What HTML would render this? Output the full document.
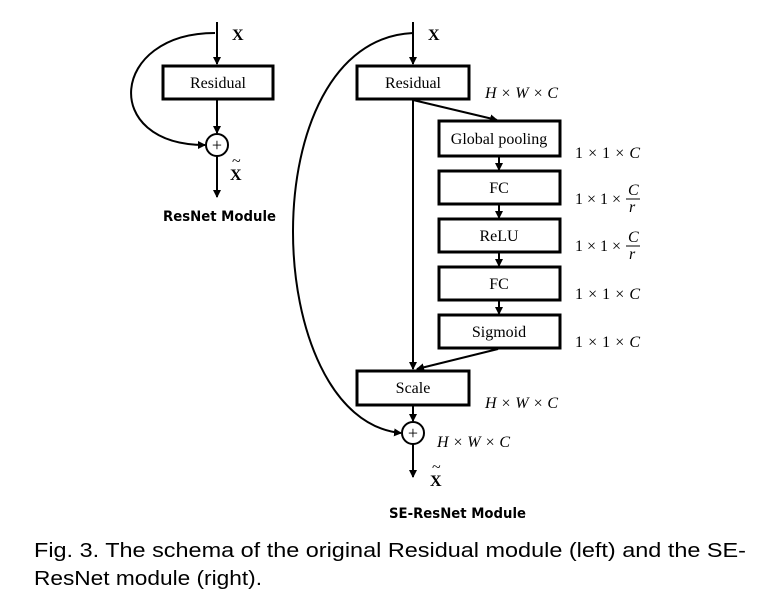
<!DOCTYPE html>
<html><head><meta charset="utf-8"><style>
html,body{margin:0;padding:0;background:#fff;}
svg{display:block;}
.b{font-family:"Liberation Serif",serif;font-size:16px;fill:#000;}
.m{font-family:"Liberation Serif",serif;font-size:16px;font-style:italic;fill:#000;}
.n{font-family:"Liberation Serif",serif;font-size:14px;fill:#000;}
.t{font-family:"DejaVu Sans","Liberation Sans",sans-serif;font-size:14px;font-weight:bold;fill:#000;}
.c{font-family:"Liberation Sans",sans-serif;font-size:20px;fill:#000;}
</style></head><body>
<svg width="762" height="607" viewBox="0 0 762 607" xmlns="http://www.w3.org/2000/svg">
<defs><marker id="a" markerWidth="8" markerHeight="8" refX="7" refY="4" orient="auto" markerUnits="userSpaceOnUse"><path d="M0,0 L8,4 L0,8 z" fill="#000"/></marker></defs>
<g stroke="#000" fill="none" stroke-width="2">
<!-- left -->
<line x1="217" y1="22" x2="217" y2="64" marker-end="url(#a)"/>
<rect x="163" y="66" width="110" height="33" stroke-width="3"/>
<line x1="217" y1="100" x2="217" y2="133" marker-end="url(#a)"/>
<circle cx="217" cy="145" r="11"/>
<line x1="217" y1="156" x2="217" y2="197" marker-end="url(#a)"/>
<path d="M215,33 C110,33 100,145 205,145" marker-end="url(#a)"/>
<!-- right -->
<line x1="413" y1="22" x2="413" y2="64" marker-end="url(#a)"/>
<rect x="357" y="66" width="112" height="33" stroke-width="3"/>
<line x1="413" y1="100" x2="413" y2="369" marker-end="url(#a)"/>
<line x1="413" y1="100" x2="497" y2="120" marker-end="url(#a)"/>
<rect x="439" y="121" width="121" height="35" stroke-width="3"/>
<line x1="499" y1="157" x2="499" y2="170" marker-end="url(#a)"/>
<rect x="439" y="171" width="121" height="33" stroke-width="3"/>
<line x1="499" y1="205" x2="499" y2="218" marker-end="url(#a)"/>
<rect x="439" y="219" width="121" height="33" stroke-width="3"/>
<line x1="499" y1="253" x2="499" y2="266" marker-end="url(#a)"/>
<rect x="439" y="267" width="121" height="33" stroke-width="3"/>
<line x1="499" y1="301" x2="499" y2="314" marker-end="url(#a)"/>
<rect x="439" y="315" width="121" height="33" stroke-width="3"/>
<line x1="498" y1="349" x2="417" y2="369" marker-end="url(#a)"/>
<rect x="357" y="371" width="112" height="34" stroke-width="3"/>
<line x1="413" y1="406" x2="413" y2="421" marker-end="url(#a)"/>
<circle cx="413" cy="433" r="11"/>
<line x1="413" y1="444" x2="413" y2="477" marker-end="url(#a)"/>
<path d="M413,33 C250,40 260,420 401,433" marker-end="url(#a)"/>
</g>
<g class="n"><text x="217" y="151" text-anchor="middle" font-size="18">+</text><text x="413" y="439" text-anchor="middle" font-size="18">+</text></g>
<g class="b">
<text x="232" y="40" font-weight="bold">X</text>
<text x="230" y="180" font-weight="bold">X</text><text x="232" y="166">~</text>
<text x="428" y="40" font-weight="bold">X</text>
<text x="430" y="486" font-weight="bold">X</text><text x="432" y="472">~</text>
<text x="218" y="88" text-anchor="middle">Residual</text>
<text x="413" y="88" text-anchor="middle">Residual</text>
<text x="499" y="144" text-anchor="middle">Global pooling</text>
<text x="499" y="193" text-anchor="middle">FC</text>
<text x="499" y="241" text-anchor="middle">ReLU</text>
<text x="499" y="289" text-anchor="middle">FC</text>
<text x="499" y="337" text-anchor="middle">Sigmoid</text>
<text x="413" y="393" text-anchor="middle">Scale</text>
</g>
<g class="m">
<text x="485" y="98" textLength="73">H × W × C</text>
<text x="485" y="408" textLength="73">H × W × C</text>
<text x="437" y="447" textLength="73">H × W × C</text>
<text x="575" y="158" textLength="65"><tspan font-style="normal">1 × 1 ×</tspan> C</text>
<text x="575" y="204"><tspan font-style="normal">1 × 1 ×</tspan></text>
<text x="628" y="195">C</text><line x1="626" y1="199" x2="640" y2="199" stroke="#000" stroke-width="1"/><text x="629" y="212">r</text>
<text x="575" y="251"><tspan font-style="normal">1 × 1 ×</tspan></text>
<text x="628" y="242">C</text><line x1="626" y1="246" x2="640" y2="246" stroke="#000" stroke-width="1"/><text x="629" y="259">r</text>
<text x="575" y="299" textLength="65"><tspan font-style="normal">1 × 1 ×</tspan> C</text>
<text x="575" y="347" textLength="65"><tspan font-style="normal">1 × 1 ×</tspan> C</text>
</g>
<text class="t" x="163" y="221" textLength="113" lengthAdjust="spacingAndGlyphs">ResNet Module</text>
<text class="t" x="389" y="518" textLength="137" lengthAdjust="spacingAndGlyphs">SE-ResNet Module</text>
<text class="c" x="34" y="557" textLength="712" lengthAdjust="spacingAndGlyphs">Fig. 3. The schema of the original Residual module (left) and the SE-</text>
<text class="c" x="34" y="585" textLength="228" lengthAdjust="spacingAndGlyphs">ResNet module (right).</text>
</svg>
</body></html>
